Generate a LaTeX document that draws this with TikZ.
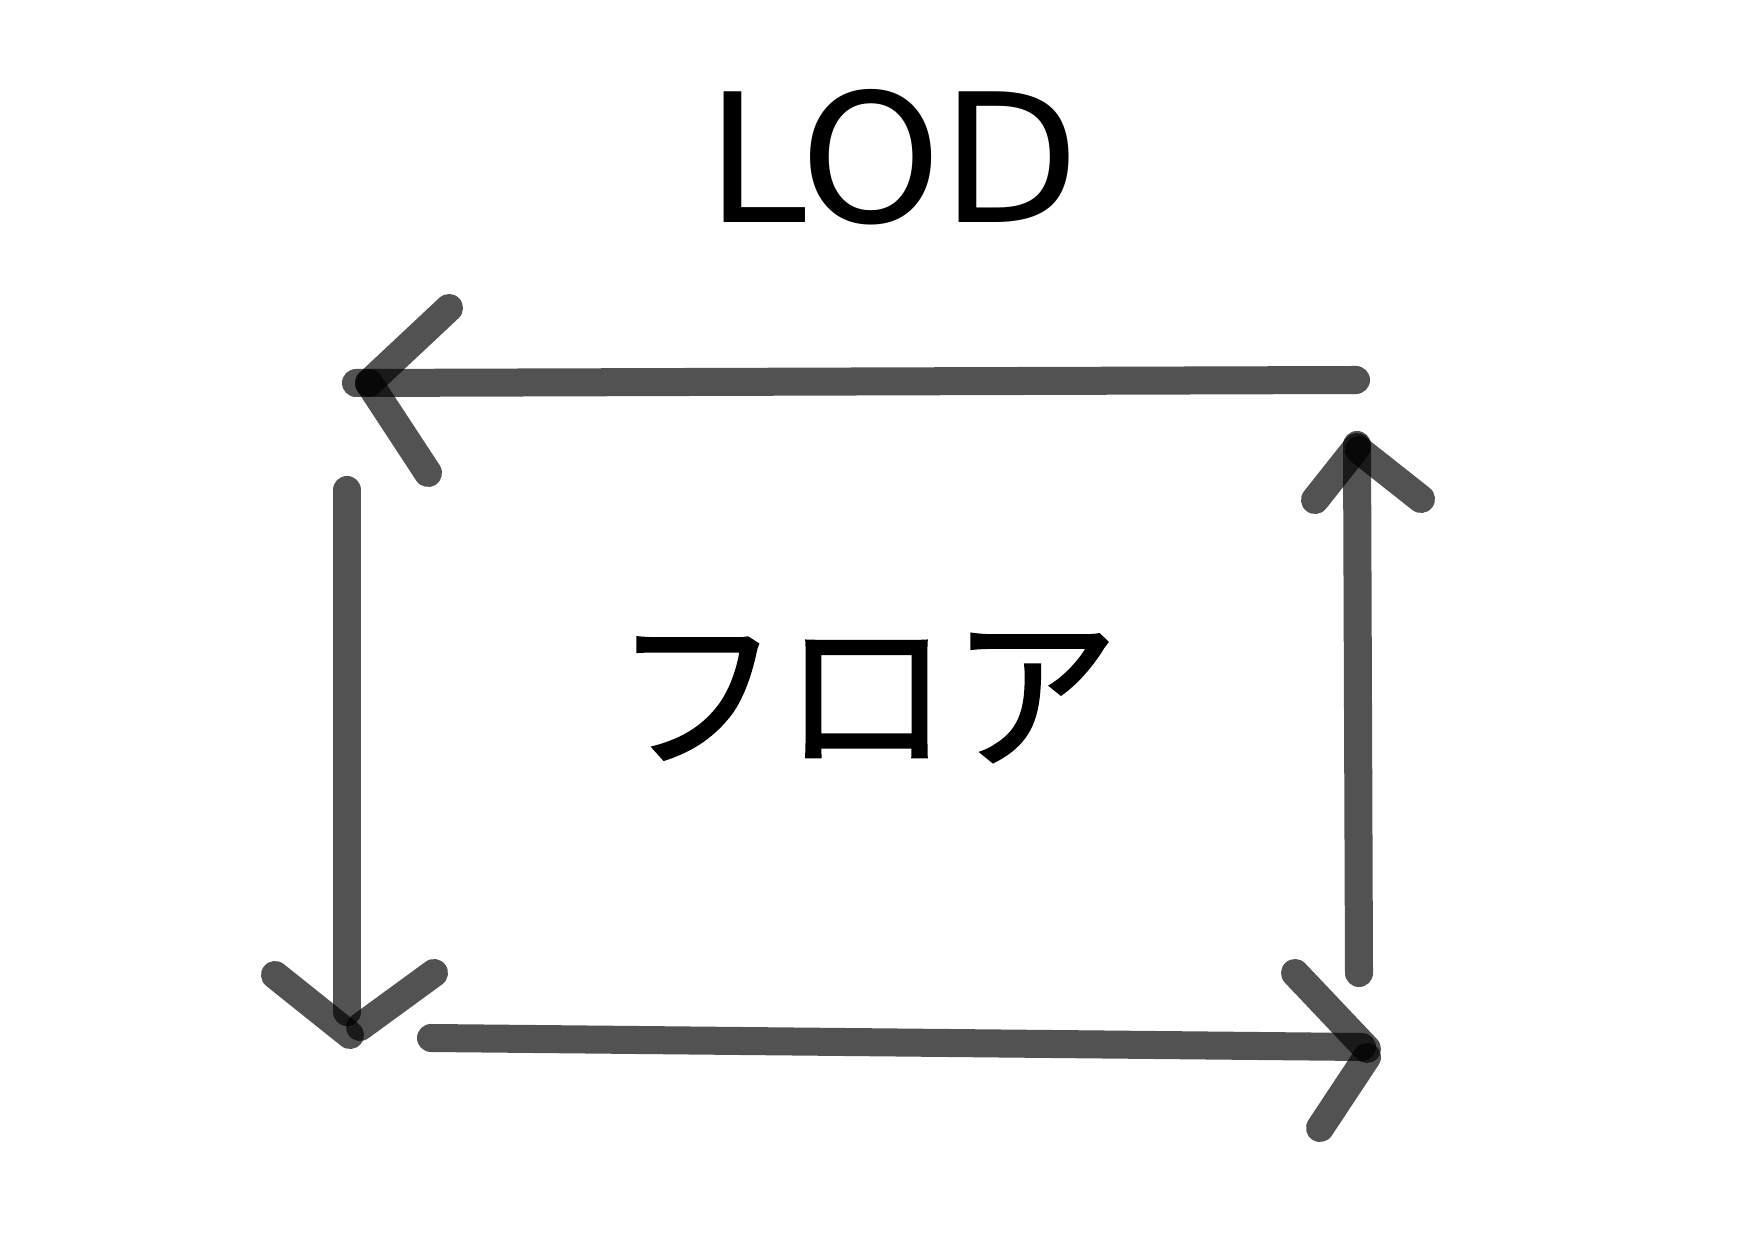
\documentclass[tikz,border=0pt]{standalone}
\usepackage{fontspec}
\newfontfamily\latinfont{DejaVu Sans}
\newfontfamily\jpfont[FakeBold=1.2]{Noto Sans CJK JP}
\usepackage{tikz}

\begin{document}
\begin{tikzpicture}[x=0.01cm,y=-0.01cm,
    pen/.style ={draw=black, line width=0.28cm, line cap=round, opacity=0.68}]
   \useasboundingbox[fill=white] (0,0) rectangle (1754,1240);
   \node[font=\latinfont\fontsize{51}{60}\selectfont] (lod) at (893,157) {LOD};
   \node[font=\jpfont\fontsize{48}{56}\selectfont] (floor) at (866,698) {フロア};
   % top: right to left
   \coordinate (t1) at (1356,380);
   \coordinate (t2) at (356,383);
   \coordinate (t3) at (369,383);
   \coordinate (ta) at (449,308);
   \coordinate (tb) at (428,473);
   \draw[pen] (t1) -- (t2);
   \draw[pen] (ta) -- (t3);
   \draw[pen] (t3) -- (tb);
   % left: top to bottom
   \coordinate (l1) at (347,490);
   \coordinate (l2) at (347,1012);
   \coordinate (la) at (275,975);
   \coordinate (la2) at (350,1035);
   \coordinate (lb) at (434,973);
   \coordinate (lb2) at (360,1027);
   \draw[pen] (l1) -- (l2);
   \draw[pen] (la) -- (la2);
   \draw[pen] (lb) -- (lb2);
   % bottom: left to right
   \coordinate (b1) at (431,1038);
   \coordinate (b2) at (1362,1047);
   \coordinate (ba) at (1295,973);
   \coordinate (ba2) at (1367,1049);
   \coordinate (bb) at (1320,1128);
   \coordinate (bb2) at (1367,1057);
   \draw[pen] (b1) -- (b2);
   \draw[pen] (ba) -- (ba2);
   \draw[pen] (bb) -- (bb2);
   % right: bottom to top
   \coordinate (r1) at (1359,973);
   \coordinate (r2) at (1357,445);
   \coordinate (ra) at (1315,500);
   \coordinate (ra2) at (1357,447);
   \coordinate (rb) at (1421,499);
   \coordinate (rb2) at (1359,450);
   \draw[pen] (r1) -- (r2);
   \draw[pen] (ra) -- (ra2);
   \draw[pen] (rb) -- (rb2);
 \end{tikzpicture}
\end{document}
